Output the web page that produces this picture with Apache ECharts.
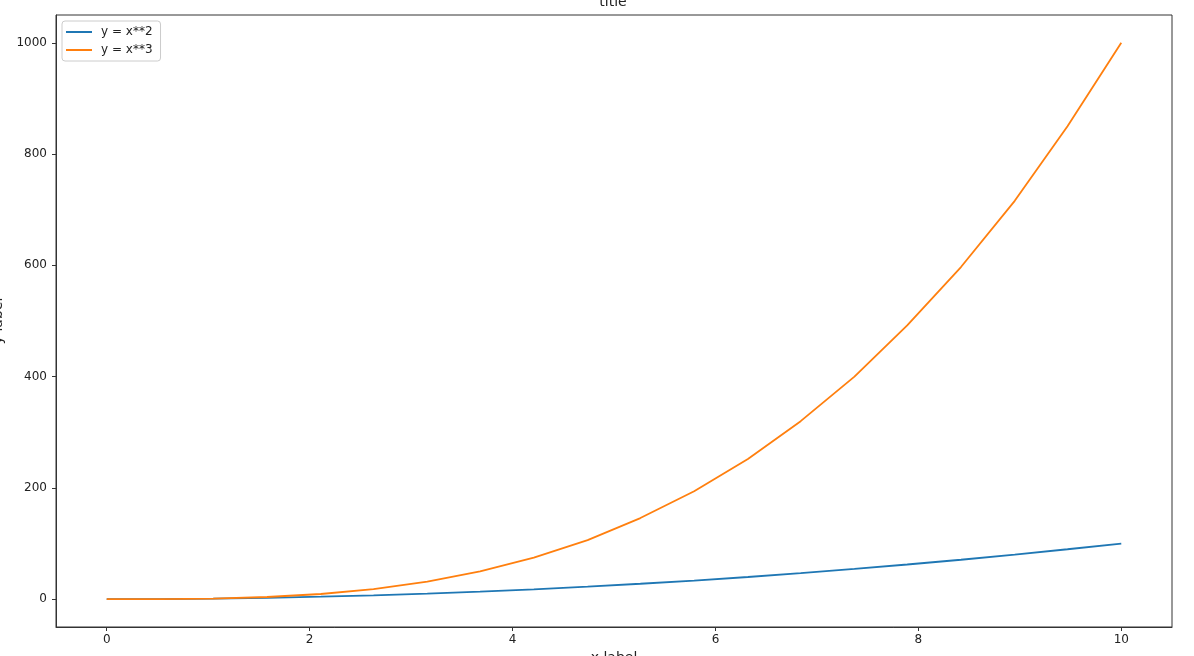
<!DOCTYPE html>
<html>
<head>
<meta charset="utf-8">
<script src="https://cdn.jsdelivr.net/npm/echarts@6/dist/echarts.min.js"></script>
<style>
html, body { margin: 0; padding: 0; background: #fff; }
#chart { width: 1194px; height: 656px; }
</style>
</head>
<body>
<div id="chart"></div>
<script>
// x positions of the points (20 samples between 0 and 10)
var xValues = [0, 0.53, 1.05, 1.58, 2.11, 2.63, 3.16, 3.68, 4.21, 4.74,
	5.26, 5.79, 6.32, 6.84, 7.37, 7.89, 8.42, 8.95, 9.47, 10];
var squareValues = [0, 0.28, 1.11, 2.49, 4.43, 6.93, 9.97, 13.57, 17.73, 22.44,
	27.7, 33.52, 39.89, 46.81, 54.29, 62.33, 70.91, 80.06, 89.75, 100];
var cubeValues = [0, 0.15, 1.17, 3.94, 9.33, 18.22, 31.49, 50, 74.64, 106.27,
	145.8, 194, 252, 320, 400, 492, 597, 716, 850, 1000];
var xTicks = [0, 2, 4, 6, 8, 10];
var yTicks = [0, 200, 400, 600, 800, 1000];
var seriesNames = ['y = x**2', 'y = x**3'];

function pairs(xs, ys) {
	var out = [];
	for (var i = 0; i < xs.length; i++) {
		out.push([xs[i], ys[i]]);
	}
	return out;
}

function plain(v) {
	return String(v);
}

var font = 'DejaVu Sans';
var chart = echarts.init(document.getElementById('chart'));
var option = {
	animation : false,
	textStyle : { fontFamily : font },
	title : {
		text : 'title',
		left : 608,
		textAlign : 'center',
		top : -10,
		textStyle : { fontFamily : font, fontSize : 14, fontWeight : 'normal', color : '#222' }
	},
	grid : {
		left : 56,
		right : 22,
		top : 15,
		bottom : 29,
		outerBoundsMode : 'none',
		containLabel : false,
		show : true,
		borderColor : '#333',
		borderWidth : 1,
		backgroundColor : '#fff'
	},
	legend : {
		orient : 'vertical',
		left : 62,
		top : 21,
		padding : [ 5, 8, 5, 4 ],
		itemGap : 6,
		itemWidth : 26,
		itemHeight : 2,
		icon : 'rect',
		borderColor : '#ccc',
		borderWidth : 1,
		borderRadius : 3,
		backgroundColor : '#fff',
		textStyle : { fontFamily : font, fontSize : 12, color : '#222', padding : [ 0, 0, 0, 4 ] },
		data : seriesNames
	},
	xAxis : {
		type : 'value',
		min : -0.5,
		max : 10.5,
		name : 'x label',
		nameLocation : 'middle',
		nameGap : 24,
		nameTextStyle : { fontFamily : font, fontSize : 14, color : '#222' },
		splitLine : { show : false },
		axisLine : { show : true, onZero : false, lineStyle : { color : '#333' } },
		axisTick : { show : true, length : 4, lineStyle : { color : '#333' }, customValues : xTicks },
		axisLabel : { fontFamily : font, fontSize : 12, color : '#222', margin : 7, formatter : plain, customValues : xTicks }
	},
	yAxis : {
		type : 'value',
		min : -50,
		max : 1050,
		name : 'y label',
		nameLocation : 'middle',
		nameRotate : 90,
		nameGap : 48,
		nameTextStyle : { fontFamily : font, fontSize : 14, color : '#222' },
		splitLine : { show : false },
		axisLine : { show : true, onZero : false, lineStyle : { color : '#333' } },
		axisTick : { show : true, length : 4, lineStyle : { color : '#333' }, customValues : yTicks },
		axisLabel : { fontFamily : font, fontSize : 12, color : '#222', margin : 9, formatter : plain, customValues : yTicks }
	},
	series : [ {
		name : seriesNames[0],
		type : 'line',
		symbol : 'none',
		color : '#1f77b4',
		lineStyle : { width : 1.8 },
		data : pairs(xValues, squareValues)
	}, {
		name : seriesNames[1],
		type : 'line',
		symbol : 'none',
		color : '#ff7f0e',
		lineStyle : { width : 1.8 },
		data : pairs(xValues, cubeValues)
	} ]
};
chart.setOption(option);
</script>
</body>
</html>
